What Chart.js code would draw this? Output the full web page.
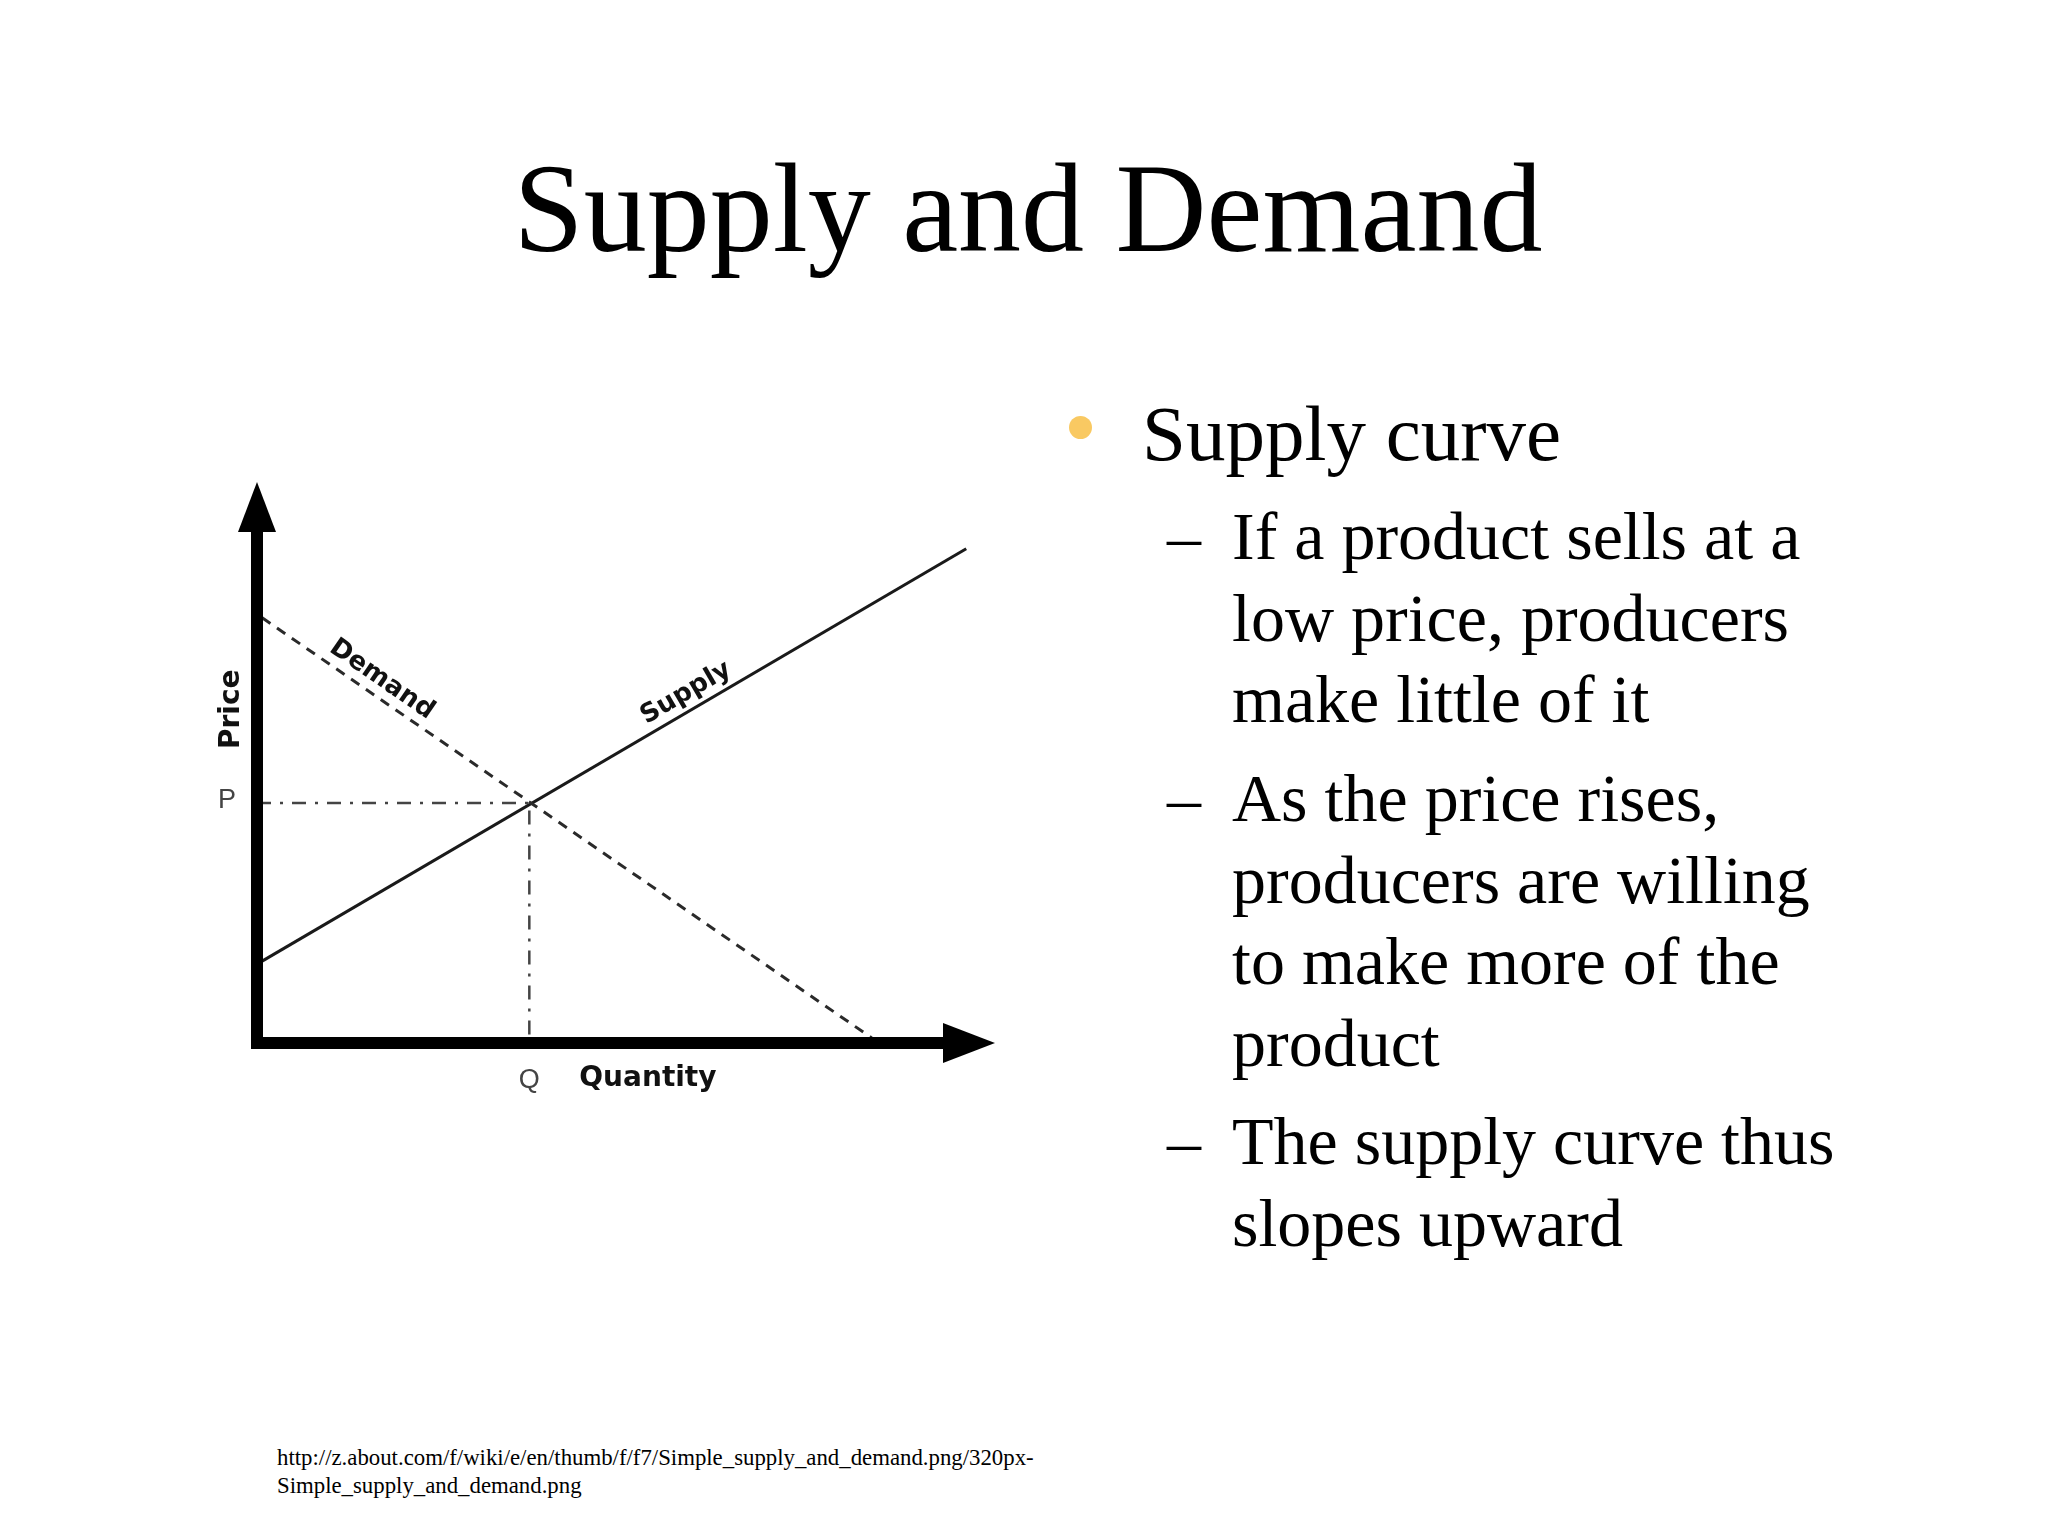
<!DOCTYPE html>
<html>
<head>
<meta charset="utf-8">
<title>Supply and Demand</title>
<script src="https://cdn.jsdelivr.net/npm/chart.js@4"></script>
<style>
  html, body { margin: 0; padding: 0; background: #fff; }
  body { width: 2048px; height: 1536px; position: relative; overflow: hidden;
         font-family: "Liberation Serif", "Times New Roman", serif; color: #000; }
  .title { position: absolute; left: 4px; top: 146px; width: 2048px; text-align: center;
           font-size: 126px; line-height: 126px; }
  .bullet { position: absolute; left: 1069px; top: 416px; width: 23px; height: 23px;
            border-radius: 50%; background: #f9c962; }
  .lvl1 { position: absolute; left: 1142px; top: 394px; font-size: 79px; line-height: 79px; white-space: nowrap; }
  .lvl2 { position: absolute; left: 1232px; font-size: 68px; line-height: 81.5px; white-space: nowrap; }
  .dash { position: absolute; left: 1167px; font-size: 68px; line-height: 81.5px; }
  .foot { position: absolute; left: 277px; top: 1444px; font-size: 22.8px; line-height: 28px; white-space: nowrap; }
  #wrap { position: absolute; left: 150px; top: 420px; width: 900px; height: 720px; }
</style>
</head>
<body>
<div class="title">Supply and Demand</div>

<div class="bullet"></div>
<div class="lvl1">Supply curve</div>

<div class="dash" style="top:496px">–</div>
<div class="lvl2" style="top:496px">If a product sells at a<br>low price, producers<br>make little of it</div>

<div class="dash" style="top:758px">–</div>
<div class="lvl2" style="top:758px">As the price rises,<br>producers are willing<br>to make more of the<br>product</div>

<div class="dash" style="top:1101px">–</div>
<div class="lvl2" style="top:1101px">The supply curve thus<br>slopes upward</div>

<div class="foot">http://z.about.com/f/wiki/e/en/thumb/f/f7/Simple_supply_and_demand.png/320px-<br>Simple_supply_and_demand.png</div>

<div id="wrap"><canvas id="sd-chart" width="900" height="720"></canvas></div>

<script>
// values (arbitrary 0-100 units on both axes)
const demandX = [0.7, 83.3];
const demandY = [75.8, 0.9];
const supplyX = [0.7, 96.1];
const supplyY = [14.6, 88.1];
const guideX = [0, 36.9, 36.9];   // P level across, then down to Q
const guideY = [42.8, 42.8, 0];
const tickLabels = ['P', 'Q'];
const axisTitles = ['Price', 'Quantity'];
const curveLabels = ['Demand', 'Supply'];
const labelAtX = [15.6, 59.3];    // where along each curve its name sits

function pts(xs, ys) {
  return xs.map((x, i) => ({ x: x, y: ys[i] }));
}

// axes with arrow heads, tick letters and curve names
const sketchAxes = {
  id: 'sketchAxes',
  afterDatasetsDraw(chart) {
    const c = chart.ctx;
    const xs = chart.scales.x, ys = chart.scales.y;
    const x0 = xs.getPixelForValue(0), x1 = xs.getPixelForValue(100);
    const y0 = ys.getPixelForValue(0), y1 = ys.getPixelForValue(100);
    c.save();
    c.fillStyle = '#000';
    c.strokeStyle = '#000';
    c.lineWidth = 12;
    c.lineCap = 'butt';
    c.beginPath();
    c.moveTo(x0, y0 + 6);
    c.lineTo(x0, y1 + 48);
    c.moveTo(x0 - 6, y0);
    c.lineTo(x1 - 50, y0);
    c.stroke();
    // arrow heads
    c.beginPath();
    c.moveTo(x0, y1);
    c.lineTo(x0 - 19, y1 + 50);
    c.lineTo(x0 + 19, y1 + 50);
    c.closePath();
    c.fill();
    c.beginPath();
    c.moveTo(x1, y0);
    c.lineTo(x1 - 52, y0 - 20);
    c.lineTo(x1 - 52, y0 + 20);
    c.closePath();
    c.fill();

    // P and Q
    c.fillStyle = '#444';
    c.font = '27px "Liberation Sans", Arial, sans-serif';
    c.textAlign = 'center';
    c.textBaseline = 'middle';
    const pPix = ys.getPixelForValue(guideY[0]);
    const qPix = xs.getPixelForValue(guideX[1]);
    c.fillText(tickLabels[0], x0 - 30, pPix - 2);
    c.fillText(tickLabels[1], qPix, y0 + 38);

    // axis titles
    c.fillStyle = '#111';
    c.font = 'bold 28px "DejaVu Sans", Verdana, sans-serif';
    c.textAlign = 'left';
    c.textBaseline = 'alphabetic';
    c.fillText(axisTitles[1], qPix + 50, y0 + 43);
    c.save();
    c.translate(x0 - 18, ys.getPixelForValue(59.5));
    c.rotate(-Math.PI / 2);
    c.textAlign = 'center';
    c.fillText(axisTitles[0], 0, 0);
    c.restore();

    // curve names, rotated along their lines
    c.font = '600 26px "DejaVu Sans", Verdana, sans-serif';
    c.textAlign = 'center';
    c.textBaseline = 'middle';
    [[demandX, demandY], [supplyX, supplyY]].forEach((d, i) => {
      const ax = xs.getPixelForValue(d[0][0]), ay = ys.getPixelForValue(d[1][0]);
      const bx = xs.getPixelForValue(d[0][1]), by = ys.getPixelForValue(d[1][1]);
      const ang = Math.atan2(by - ay, bx - ax);
      const t = (labelAtX[i] - d[0][0]) / (d[0][1] - d[0][0]);
      const px = ax + (bx - ax) * t, py = ay + (by - ay) * t;
      c.save();
      c.translate(px + 17 * Math.sin(ang), py - 17 * Math.cos(ang));
      c.rotate(ang);
      c.fillText(curveLabels[i], 0, 0);
      c.restore();
    });
    c.restore();
  }
};

new Chart(document.getElementById('sd-chart'), {
  type: 'scatter',
  data: {
    datasets: [
      {
        label: 'Equilibrium',
        data: pts(guideX, guideY),
        showLine: true,
        borderColor: '#444',
        borderWidth: 2.5,
        borderDash: [14, 9, 3, 9],
        pointRadius: 0
      },
      {
        label: 'Demand',
        data: pts(demandX, demandY),
        showLine: true,
        borderColor: '#2a2a2a',
        borderWidth: 3,
        borderDash: [10, 8],
        pointRadius: 0
      },
      {
        label: 'Supply',
        data: pts(supplyX, supplyY),
        showLine: true,
        borderColor: '#1a1a1a',
        borderWidth: 3,
        pointRadius: 0
      }
    ]
  },
  options: {
    responsive: false,
    animation: false,
    devicePixelRatio: 1,
    layout: { padding: { left: 107, top: 62, right: 55, bottom: 97 } },
    scales: {
      x: { type: 'linear', min: 0, max: 100, display: false },
      y: { type: 'linear', min: 0, max: 100, display: false }
    },
    plugins: {
      legend: { display: false },
      tooltip: { enabled: false }
    }
  },
  plugins: [sketchAxes]
});
</script>
</body>
</html>
